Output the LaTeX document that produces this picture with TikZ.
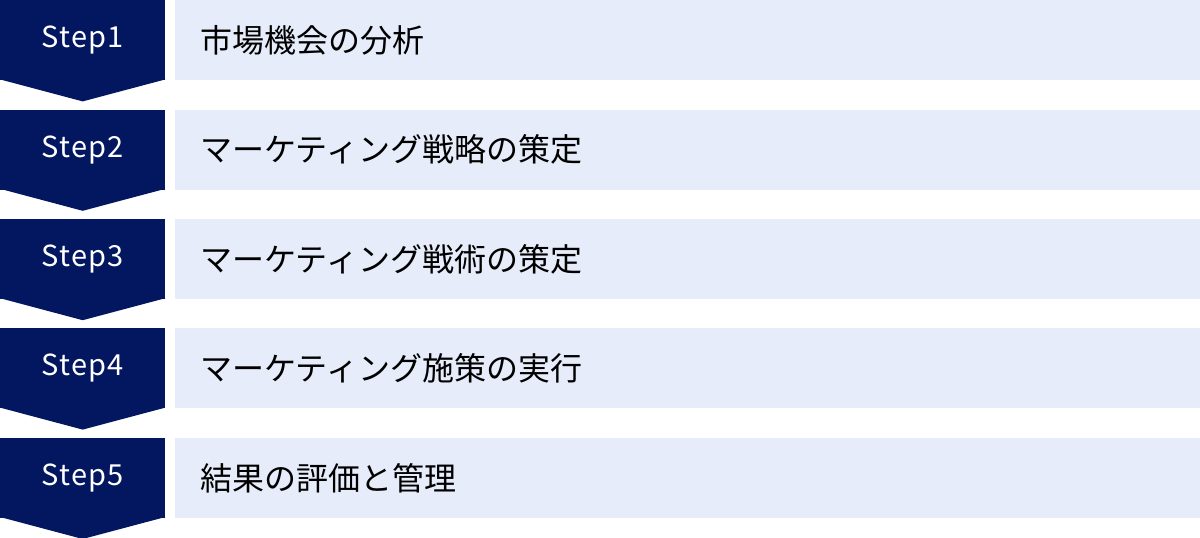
\documentclass[tikz,border=0pt]{standalone}
\usepackage{fontspec}
\setmainfont{Noto Sans CJK JP}
\newfontfamily\stepfont[LetterSpace=4]{Noto Sans CJK JP}
\usepackage{tikz}
\usetikzlibrary{positioning}
\usepackage{xcolor}
\definecolor{mynavy}{RGB}{3, 23, 96}
\definecolor{mylightblue}{RGB}{230, 236, 249}

\begin{document}
\begin{tikzpicture}[
            node distance=29pt and 9pt,
            stepbox/.style={
                rectangle,
                fill=mynavy,
                text=white,
                inner sep=0pt,
                minimum width=165pt,
                minimum height=80pt,
                font=\stepfont\fontsize{29pt}{34pt}\selectfont
            },
            taskbox/.style={
                rectangle,
                fill=mylightblue,
                text=black,
                inner xsep=26pt,
                inner ysep=0pt,
                text width=974pt,
                align=left,
                minimum height=80pt,
                font=\fontsize{32pt}{38pt}\selectfont
            },
            tip/.style={fill=mynavy}
        ]

            \useasboundingbox (0pt,0pt) rectangle (1200pt,-538pt);

            % Steps
            \node[stepbox, anchor=north west] (step1) at (0pt,0pt) {Step1};
            \node[stepbox, below=of step1] (step2) {Step2};
            \node[stepbox, below=of step2] (step3) {Step3};
            \node[stepbox, below=of step3] (step4) {Step4};
            \node[stepbox, below=of step4] (step5) {Step5};

            % Tasks
            \node[taskbox, right=of step1] (task1) {市場機会の分析};
            \node[taskbox, right=of step2] (task2) {マーケティング戦略の策定};
            \node[taskbox, right=of step3] (task3) {マーケティング戦術の策定};
            \node[taskbox, right=of step4] (task4) {マーケティング施策の実行};
            \node[taskbox, right=of step5] (task5) {結果の評価と管理};

            % Tips
            \fill[tip] ([yshift=1pt]step1.south west) -- ([yshift=1pt]step1.south east) -- ([yshift=-21pt]step1.south) -- cycle;
            \fill[tip] ([yshift=1pt]step2.south west) -- ([yshift=1pt]step2.south east) -- ([yshift=-21pt]step2.south) -- cycle;
            \fill[tip] ([yshift=1pt]step3.south west) -- ([yshift=1pt]step3.south east) -- ([yshift=-21pt]step3.south) -- cycle;
            \fill[tip] ([yshift=1pt]step4.south west) -- ([yshift=1pt]step4.south east) -- ([yshift=-21pt]step4.south) -- cycle;
            \fill[tip] ([yshift=1pt]step5.south west) -- ([yshift=1pt]step5.south east) -- ([yshift=-21pt]step5.south) -- cycle;
        \end{tikzpicture}
\end{document}
